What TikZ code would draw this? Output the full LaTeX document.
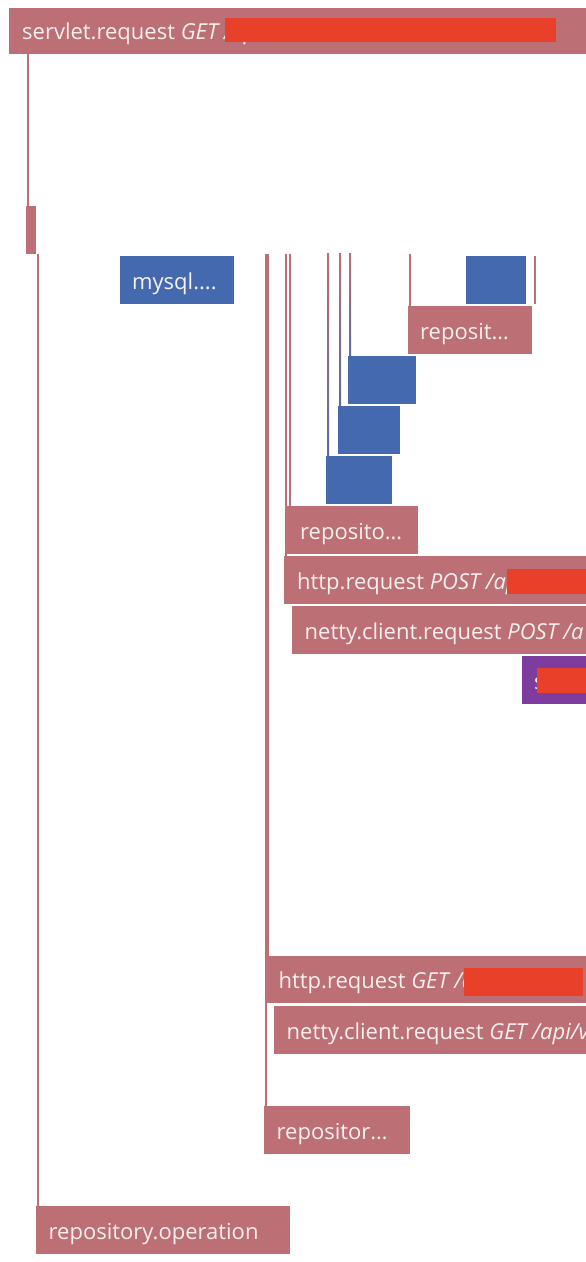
\documentclass[tikz,border=0pt]{standalone}
\usepackage{fontspec}
\setmainfont{Open Sans}
\definecolor{bar}{RGB}{188,111,116}
\definecolor{sql}{RGB}{68,105,174}
\definecolor{purp}{RGB}{126,60,159}
\definecolor{redact}{RGB}{233,64,42}
\definecolor{txt}{RGB}{248,240,240}
\begin{document}
\begin{tikzpicture}[x=1pt,y=-1pt,
  span/.style={fill=bar, draw=none, inner sep=0pt, outer sep=0pt, anchor=north west, minimum height=47.5pt},
  dbspan/.style={span, fill=sql},
  pspan/.style={span, fill=purp},
  lbl/.style={anchor=base west, inner sep=0pt, text=txt, font=\fontsize{22}{26}\selectfont},
  hide/.style={fill=redact, draw=none},
  conn/.style={draw=bar, line width=2pt},
  fade/.style={top color=bar, bottom color=sql!80!bar}
]
\useasboundingbox (0,0) rectangle (586,1262);
\clip (0,0) rectangle (586,1262);

% spans
\node[span, minimum width=600pt, minimum height=46pt] (servlet) at (9,8) {};
\node[lbl] (servletT) at (22,39.5) {servlet.request \textit{GET /api/}};
\fill[hide] (225,18) rectangle (556,42);

\node[span, minimum width=10pt] (small) at (26,206) {};

\node[dbspan, minimum width=114pt] (mysql) at (120,256) {};
\node[lbl] (mysqlT) at (132,289) {mysql....};

\node[dbspan, minimum width=60pt] (blueA) at (466,256) {};

\node[span, minimum width=124pt] (repoA) at (408,306) {};
\node[lbl] (repoAT) at (420,339) {reposit…};

\node[dbspan, minimum width=68pt] (blueB) at (348,356) {};
\node[dbspan, minimum width=62pt] (blueC) at (338,406) {};
\node[dbspan, minimum width=66pt] (blueD) at (326,456) {};

\node[span, minimum width=131pt] (repoB) at (287,506) {};
\node[lbl] (repoBT) at (300,539) {reposito…};

\node[span, minimum width=320pt] (httpP) at (284,556) {};
\node[lbl] (httpPT) at (297,589) {http.request \textit{POST /api}};
\fill[hide] (506.5,569) rectangle (590,594);

\node[span, minimum width=320pt] (nettyP) at (292,606) {};
\node[lbl] (nettyPT) at (304.5,639) {netty.client.request \textit{POST /a}};

\node[pspan, minimum width=80pt] (purple) at (522,656) {};
\node[lbl] (purpleT) at (534,689) {s};
\fill[hide] (536.5,667.5) rectangle (590,692.5);

\node[span, minimum width=330pt, minimum height=46.5pt] (httpG) at (265,956) {};
\node[lbl] (httpGT) at (278.5,988.5) {http.request \textit{GET /api/users}};
\fill[hide] (464,968) rectangle (582.5,995.5);

\node[span, minimum width=320pt] (nettyG) at (274,1006) {};
\node[lbl] (nettyGT) at (286.5,1039) {netty.client.request \textit{GET /api/v}};

\node[span, minimum width=146pt] (repoC) at (264,1106) {};
\node[lbl] (repoCT) at (276.5,1139) {repositor…};

\node[span, minimum width=254pt] (repoOp) at (36,1206) {};
\node[lbl] (repoOpT) at (48.5,1239) {repository.operation};

% connectors
\draw[conn] ([xshift=19pt]servlet.south west) -- ([xshift=2pt]small.north west);
\draw[conn] ([xshift=2pt]repoOp.north west |- small.south) -- ([xshift=2pt]repoOp.north west);
\draw[conn, line width=4pt] ([xshift=2pt]httpG.north west |- small.south) -- ([xshift=2pt]httpG.north west);
\draw[conn] ([xshift=1pt]httpG.south west) -- ([xshift=2pt]repoC.north west);
\draw[conn] ([xshift=2pt]httpP.north west |- small.south) -- ([xshift=2pt]httpP.north west);
\draw[conn] ([xshift=3pt]repoB.north west |- small.south) -- ([xshift=3pt]repoB.north west);
\shade[fade] ([xshift=1pt]blueD.north west |- small.south) rectangle ([xshift=3pt]blueD.north west);
\shade[fade] ([xshift=1pt]blueC.north west |- small.south) rectangle ([xshift=3pt]blueC.north west);
\shade[fade] ([xshift=1pt]blueB.north west |- small.south) rectangle ([xshift=3pt]blueB.north west);
\draw[conn] ([xshift=2pt]repoA.north west |- small.south) -- ([xshift=2pt]repoA.north west);
\draw[conn] ([xshift=9pt]blueA.north east) -- ([xshift=9pt]blueA.south east);
\end{tikzpicture}
\end{document}
